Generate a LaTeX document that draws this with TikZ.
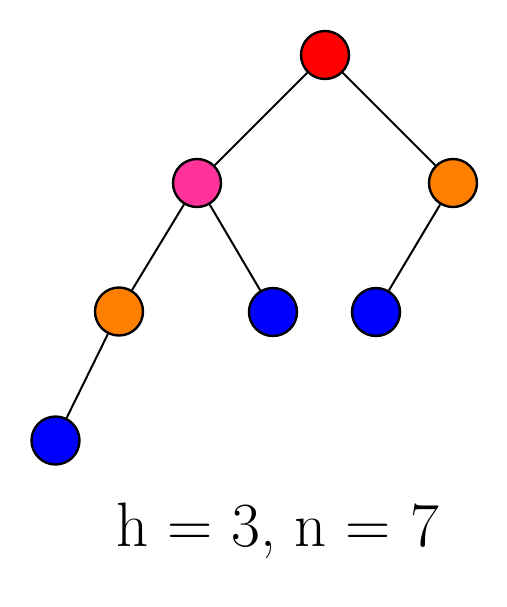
\documentclass[tikz,border=0pt]{standalone}
\definecolor{nred}{RGB}{255,0,0}
\definecolor{npink}{RGB}{255,51,153}
\definecolor{norange}{RGB}{255,128,0}
\definecolor{nblue}{RGB}{0,0,255}
\begin{document}
\begin{tikzpicture}[x=0.5pt,y=-0.5pt,
  vtx/.style={circle,draw=black,line width=1.2pt,minimum size=24pt,inner sep=0pt},
  edge/.style={line width=1pt}]
\useasboundingbox (0,0) rectangle (507,607);
\node[vtx,fill=nred] (r) at (325,55) {};
\node[vtx,fill=npink] (p) at (197,183) {};
\node[vtx,fill=norange] (o1) at (453,183) {};
\node[vtx,fill=norange] (o2) at (119,311.5) {};
\node[vtx,fill=nblue] (b1) at (273,312) {};
\node[vtx,fill=nblue] (b2) at (376,312) {};
\node[vtx,fill=nblue] (b3) at (55.5,440.5) {};
\draw[edge] (r) -- (p);
\draw[edge] (r) -- (o1);
\draw[edge] (p) -- (o2);
\draw[edge] (p) -- (b1);
\draw[edge] (o1) -- (b2);
\draw[edge] (o2) -- (b3);
\node[anchor=base,inner sep=0pt,font=\fontsize{31.4}{37}\selectfont] (t) at (277.5,546) {h = 3, n = 7};
\end{tikzpicture}
\end{document}
